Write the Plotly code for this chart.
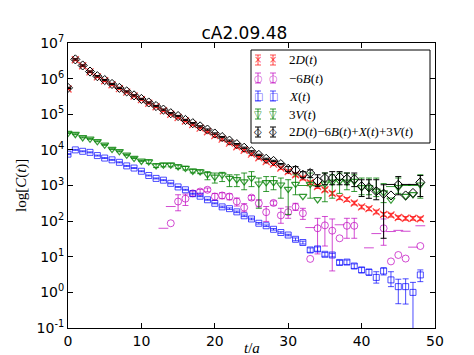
import plotly.graph_objects as go

t = list(range(49))

# ---- 2D(t) ----
d2_val = [5.13e5, 3.39e6, 2.29e6, 1.55e6, 1.12e6, 8.71e5, 6.76e5, 5.25e5, 4.17e5, 3.24e5,
          2.57e5, 2.04e5, 1.62e5, 1.26e5, 1.00e5, 8.13e4, 6.46e4, 5.13e4, 4.07e4, 3.24e4,
          2.51e4, 2.00e4, 1.55e4, 1.23e4, 9.77e3, 7.59e3, 6.03e3, 4.68e3, 3.98e3, 3.09e3,
          2.45e3, 2.00e3, 1.62e3, 1.20e3, 933, 759, 603, 457, 407, 324,
          251, 224, 182, 155, 148, 126, 120, 120, 117]
d2_err = [2.1e4, 1.4e5, 9.0e4, 6.0e4, 4.5e4, 3.5e4, 2.7e4, 2.1e4, 1.7e4, 1.3e4,
          1.0e4, 8.0e3, 6.5e3, 5.0e3, 4.0e3, 3.3e3, 2.6e3, 2.1e3, 1.6e3, 1.3e3,
          2.0e3, 1.6e3, 1.2e3, 1.0e3, 780, 610, 480, 370, 320, 250,
          290, 240, 190, 140, 110, 91, 72, 55, 49, 39,
          30, 27, 22, 19, 18, 15, 14, 14, 14]

# ---- -6B(t) ----
m_val = [None, None, None, None, None, None, None, None, None, None,
         None, None, None, None, 87, 355, 427, 603, 676, 759,
         490, 525, 490, 355, 240, 457, 316, 178, 324, 145,
         178, 251, 166, 8.7, 63, 76, 54, 33, 74, 74,
         None, None, None, 63, 7.4, 11.2, 8.9, None, 20]
m_ep = [None, None, None, None, None, None, None, None, None, None,
        None, None, None, None, None, 195, 148, 100, 100, 90,
        110, 100, 95, 90, 69, 65, 82, 79, 45, 84,
        73, 65, 63, None, 57, 59, 61, None, 46, 46,
        None, None, None, 52, None, None, None, None, None]
m_em = [None, None, None, None, None, None, None, None, None, None,
        None, None, None, None, None, 160, 152, 100, 100, 90,
        110, 100, 95, 90, 58, 65, 65, 80, 45, 58,
        58, 51, 54, None, 51, 56, 50, None, 41, 41,
        None, None, None, 42, None, None, None, None, None]
m_cap_t = [13, 14, 33, 37, 41, 42, 44, 45, 46, 47, 48]
m_cap_v = [63, 257, 66, 79, 17.8, 44.7, 51, 55, 52, 18.6, 74]

# ---- X(t) ----
b_val = [7.59e3, 1.00e4, 9.12e3, 8.51e3, 6.92e3, 5.89e3, 5.25e3, 4.47e3, 3.55e3, 3.09e3,
         2.51e3, 1.91e3, 1.58e3, 1.41e3, 1.15e3, 912, 759, 589, 501, 398,
         316, 251, 224, 182, 141, 115, 87.1, 74.1, 58.9, 47.9,
         40.7, 30.9, 25.1, 15.5, 16.6, 11.7, 11.2, 6.92, 7.08, 5.50,
         4.27, 3.72, 2.63, 3.98, 2.24, 1.45, 1.45, 1.00, 3.09]
b_ep = [230, 300, 270, 260, 210, 180, 160, 130, 110, 93,
        75, 57, 47, 42, 35, 27, 23, 18, 15, 12,
        9.5, 12.5, 11, 9, 7, 6, 4.4, 3.7, 3.0, 2.4,
        2.0, 2.8, 2.3, 2.2, 2.3, 1.4, 1.3, 1.0, 1.0, 0.8,
        0.7, 0.7, 1.17, 0.9, 1.56, 0.89, 0.95, 0.91, 1.18]
b_em = [230, 300, 270, 260, 210, 180, 160, 130, 110, 93,
        75, 57, 47, 42, 35, 27, 23, 18, 15, 12,
        9.5, 12.5, 11, 9, 7, 6, 4.4, 3.7, 3.0, 2.4,
        2.0, 2.8, 2.3, 2.2, 2.3, 1.4, 1.3, 1.0, 1.0, 0.8,
        0.7, 0.7, 0.81, 0.9, 0.79, 0.97, 0.98, 0.99, 1.09]

# ---- 3V(t) ----
g_val = [2.95e4, 2.75e4, 2.24e4, 2.04e4, 1.74e4, 1.38e4, 1.05e4, 9.12e3, 7.24e3, 5.89e3,
         4.90e3, 4.68e3, 3.63e3, 3.80e3, 3.80e3, 3.39e3, 3.09e3, 2.57e3, 2.45e3, 2.04e3,
         1.74e3, 2.00e3, 1.62e3, 1.48e3, 1.29e3, 1.62e3, 1.12e3, 1.23e3, 1.23e3, 1.05e3,
         794, 1.10e3, 501, 1.10e3, 407, 1.12e3, 1.26e3, 1.32e3, 1.26e3, 1.32e3,
         891, 891, 708, 631, 398, 891, 501, 562, 1.05e3]
g_ep = [900, 800, 700, 600, 500, 400, 300, 270, 220, 180,
        150, 560, 440, 460, 460, 410, 370, 310, 300, 410,
        500, 340, 380, 520, 950, 830, 500, 550, 550, 570,
        660, 900, None, 1140, None, 1120, 740, 920, 980, 680,
        730, 730, 910, 500, None, 730, None, None, 950]
g_em = [900, 800, 700, 600, 500, 400, 300, 270, 220, 180,
        150, 560, 440, 460, 460, 410, 370, 310, 300, 590,
        570, 710, 690, 550, 530, 690, 890, 550, 470, 610,
        640, 550, None, 660, None, 770, 820, 720, 500, 640,
        340, 340, 220, 300, None, 290, None, None, 610]
g_cap_t = [32, 34, 44, 46, 47]
g_cap_v = [1000, 1000, 933, 1000, 1000]

# ---- 2D - 6B + X + 3V ----
s_val = [5.50e5, 3.47e6, 2.34e6, 1.58e6, 1.17e6, 9.12e5, 7.08e5, 5.50e5, 4.37e5, 3.39e5,
         2.69e5, 2.14e5, 1.70e5, 1.35e5, 1.07e5, 8.91e4, 6.92e4, 5.62e4, 4.57e4, 3.72e4,
         2.88e4, 2.29e4, 1.82e4, 1.45e4, 1.15e4, 9.12e3, 7.24e3, 5.62e3, 4.90e3, 3.98e3,
         2.95e3, 2.75e3, 2.00e3, 2.24e3, 1.35e3, 1.62e3, 1.62e3, 1.74e3, 1.55e3, 1.51e3,
         955, 891, 692, 589, 525, 1.05e3, 525, 617, 1.23e3]
s_ep = [2.2e4, 1.4e5, 9.4e4, 6.3e4, 4.7e4, 3.6e4, 2.8e4, 2.2e4, 1.7e4, 1.4e4,
        1.1e4, 8.6e3, 6.8e3, 5.4e3, 4.3e3, 3.6e3, 2.8e3, 2.2e3, 1.8e3, 1.5e3,
        1.2e3, 920, 730, 580, 460, 370, 290, 220, 200, 160,
        440, 640, 450, 510, 650, 620, 830, 710, 690, 730,
        495, 560, 760, 460, None, 730, None, None, 680]
s_em = [2.2e4, 1.4e5, 9.4e4, 6.3e4, 4.7e4, 3.6e4, 2.8e4, 2.2e4, 1.7e4, 1.4e4,
        1.1e4, 8.6e3, 6.8e3, 5.4e3, 4.3e3, 3.6e3, 2.8e3, 2.2e3, 1.8e3, 1.5e3,
        1.2e3, 920, 730, 580, 460, 370, 290, 220, 200, 160,
        500, 510, 340, 580, 420, 570, 570, 690, 500, 580,
        465, 454, 294, 556, None, 500, None, None, 740]
s_cap_t = [44, 46, 47]
s_cap_v = [1070, 1070, 1070]

legend_labels = ["2<i>D</i>(<i>t</i>)", "−6<i>B</i>(<i>t</i>)", "<i>X</i>(<i>t</i>)",
                 "3<i>V</i>(<i>t</i>)",
                 "2<i>D</i>(<i>t</i>)−6<i>B</i>(<i>t</i>)+<i>X</i>(<i>t</i>)+3<i>V</i>(<i>t</i>)"]
legend_glyphs = ["×", "○", "□", "▽", "◇"]

y_tick_vals = [1e-1, 1e0, 1e1, 1e2, 1e3, 1e4, 1e5, 1e6, 1e7]
y_tick_text = ["10<sup>-1</sup>", "10<sup>0</sup>", "10<sup>1</sup>", "10<sup>2</sup>",
               "10<sup>3</sup>", "10<sup>4</sup>", "10<sup>5</sup>", "10<sup>6</sup>",
               "10<sup>7</sup>"]
x_tick_vals = [0, 10, 20, 30, 40, 50]

W, H = 474, 355
ML, MR, MT, MB = 60, 47, 35, 35
PW, PH = W - ML - MR, H - MT - MB


def px(xp):
    return (xp - ML) / PW


def py(yp):
    return (H - MB - yp) / PH


fig = go.Figure()


def add_series(val, ep, em, cap_t, cap_v, color, symbol, size, lw=1.0):
    bt, bv, bp, bm, nt, nv = [], [], [], [], [], []
    for ti, v, p, m in zip(t, val, ep, em):
        if v is None:
            continue
        if p is None:
            nt.append(ti); nv.append(v)
        else:
            bt.append(ti); bv.append(v); bp.append(p); bm.append(m)
    marker = dict(symbol=symbol, size=size, color=color, line=dict(color=color, width=lw))
    fig.add_trace(go.Scatter(
        x=bt, y=bv, mode="markers", marker=marker,
        error_y=dict(type="data", symmetric=False, array=bp, arrayminus=bm,
                     color=color, thickness=1, width=3)))
    if nt:
        fig.add_trace(go.Scatter(x=nt, y=nv, mode="markers", marker=marker,
                                 hoverinfo="skip"))
    if cap_t:
        fig.add_trace(go.Scatter(
            x=cap_t, y=cap_v, mode="markers", hoverinfo="skip",
            marker=dict(symbol="line-ew", size=7, color=color,
                        line=dict(color=color, width=1))))


red = "rgba(255,0,0,0.7)"
mag = "rgba(191,0,191,0.7)"
blue = "rgba(0,0,255,0.7)"
green = "rgba(0,128,0,0.8)"
black = "black"
colors = [red, mag, blue, green, black]

add_series(d2_val, d2_err, d2_err, [], [], red, "x-thin-open", 7, 1.3)
add_series(m_val, m_ep, m_em, m_cap_t, m_cap_v, mag, "circle-open", 7)
add_series(b_val, b_ep, b_em, [], [], blue, "square-open", 6)
add_series(g_val, g_ep, g_em, g_cap_t, g_cap_v, green, "triangle-down-open", 7, 1.2)
add_series(s_val, s_ep, s_em, s_cap_t, s_cap_v, black, "diamond-open", 7)

# ---- legend box (matplotlib style, two markers per entry) ----
shapes = [dict(type="rect", xref="paper", yref="paper", layer="above",
               x0=px(243), x1=px(422), y0=py(135), y1=py(42),
               fillcolor="white", line=dict(color="black", width=1))]
annotations = []
row_y = [52, 70, 88, 106, 124]
for lab, gl, col, ry in zip(legend_labels, legend_glyphs, colors, row_y):
    for mx in (250, 265):
        shapes.append(dict(type="line", xref="paper", yref="paper", layer="above",
                           x0=px(mx), x1=px(mx), y0=py(ry - 5), y1=py(ry + 5),
                           line=dict(color=col, width=1)))
        for cy in (ry - 5, ry + 5):
            shapes.append(dict(type="line", xref="paper", yref="paper", layer="above",
                               x0=px(mx - 3), x1=px(mx + 3), y0=py(cy), y1=py(cy),
                               line=dict(color=col, width=1)))
        annotations.append(dict(text=gl, xref="paper", yref="paper", x=px(mx), y=py(ry),
                                xanchor="center", yanchor="middle", showarrow=False,
                                font=dict(family="DejaVu Sans", size=10, color=col)))
    annotations.append(dict(text=lab, xref="paper", yref="paper", x=px(279), y=py(ry),
                            xanchor="left", yanchor="middle", showarrow=False,
                            font=dict(family="Liberation Serif", size=13, color="black")))

annotations += [
    dict(text="<i>t</i>/<i>a</i>", xref="paper", yref="paper", x=0.5, y=py(340),
         xanchor="center", yanchor="middle", showarrow=False,
         font=dict(family="Liberation Serif", size=15, color="black")),
    dict(text="log[<i>C</i>(<i>t</i>)]", xref="paper", yref="paper", x=px(13), y=py(178),
         xanchor="center", yanchor="middle", showarrow=False, textangle=-90,
         font=dict(family="Liberation Serif", size=15, color="black")),
]

axis_common = dict(showline=True, linecolor="black", linewidth=1, mirror="ticks",
                   ticks="inside", ticklen=5, tickcolor="black", showgrid=False,
                   zeroline=False, automargin=False,
                   tickfont=dict(family="DejaVu Sans", size=14, color="black"))

fig.update_layout(
    width=W, height=H,
    margin=dict(l=ML, r=MR, t=MT, b=MB),
    paper_bgcolor="white", plot_bgcolor="white",
    title=dict(text="cA2.09.48", x=px(243), xanchor="center", y=1 - 25 / H,
               yanchor="middle", font=dict(family="DejaVu Sans", size=17, color="black")),
    xaxis=dict(range=[0, 50], tickvals=x_tick_vals, **axis_common),
    yaxis=dict(type="log", range=[-1, 7], tickvals=y_tick_vals, ticktext=y_tick_text,
               **axis_common),
    showlegend=False,
    shapes=shapes,
    annotations=annotations,
)

fig.write_html("out.html")
